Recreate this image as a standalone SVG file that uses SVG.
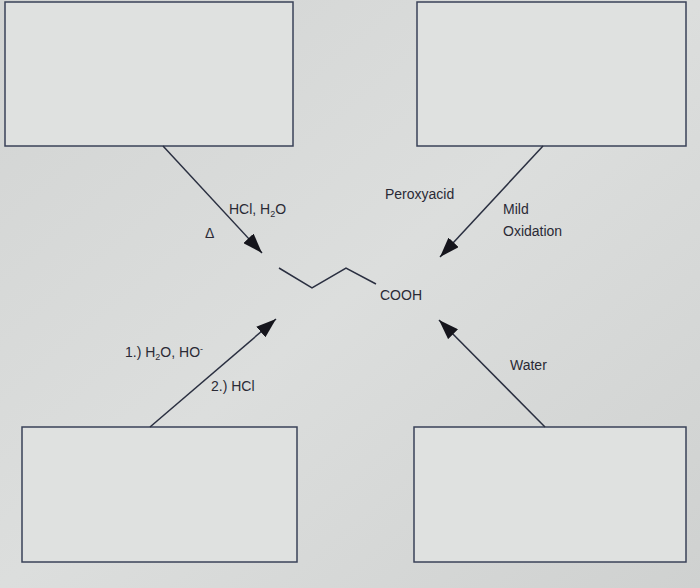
<svg xmlns="http://www.w3.org/2000/svg" width="700" height="588" viewBox="0 0 700 588">
<defs>
<linearGradient id="bg" x1="0" y1="0" x2="1" y2="1"><stop offset="0" stop-color="#d2d4d3"/><stop offset="0.5" stop-color="#dcdedd"/><stop offset="1" stop-color="#cfd1d0"/></linearGradient>
<marker id="a2" viewBox="0 0 20 14" refX="20" refY="7" markerWidth="20" markerHeight="14" orient="auto" markerUnits="userSpaceOnUse"><path d="M0,0 L20,7 L0,14 z" fill="#15151c"/></marker>
<style>
.box{fill:#dfe1e0;stroke:#3a4258;stroke-width:1.5}
.c{stroke:#2a2f40;stroke-width:1.5;fill:none}
text{font-family:"Liberation Sans",Arial,sans-serif;font-size:14px;fill:#2a2a35}
</style>
</defs>
<rect width="700" height="588" fill="url(#bg)"/>
<g id="box-tl"><rect class="box" x="5" y="2" width="288" height="144"/></g>
<g id="box-tr"><rect class="box" x="417" y="2" width="269" height="144"/></g>
<g id="box-bl"><rect class="box" x="22" y="427" width="275" height="135"/></g>
<g id="box-br"><rect class="box" x="414" y="427" width="272" height="135"/></g>
<g id="connectors">
<line class="c" x1="163" y1="146" x2="262" y2="253" marker-end="url(#a2)"/>
<line class="c" x1="543" y1="146" x2="440" y2="257" marker-end="url(#a2)"/>
<line class="c" x1="150" y1="427" x2="276" y2="319" marker-end="url(#a2)"/>
<line class="c" x1="545" y1="427" x2="439" y2="320" marker-end="url(#a2)"/>
</g>
<g id="molecule">
<polyline class="c" points="279,268 312,288 346,268 376,284"/>
<text x="380" y="300">COOH</text>
</g>
<g id="labels">
<text x="229" y="214">HCl, H<tspan font-size="9" dy="3">2</tspan><tspan dy="-3">O</tspan></text>
<text x="205" y="238">Δ</text>
<text x="385" y="199">Peroxyacid</text>
<text x="503" y="214">Mild</text>
<text x="503" y="236">Oxidation</text>
<text x="125" y="357">1.) H<tspan font-size="9" dy="3">2</tspan><tspan dy="-3">O, HO</tspan><tspan font-size="9" dy="-5">-</tspan></text>
<text x="211" y="391">2.) HCl</text>
<text x="510" y="370">Water</text>
</g>
</svg>
